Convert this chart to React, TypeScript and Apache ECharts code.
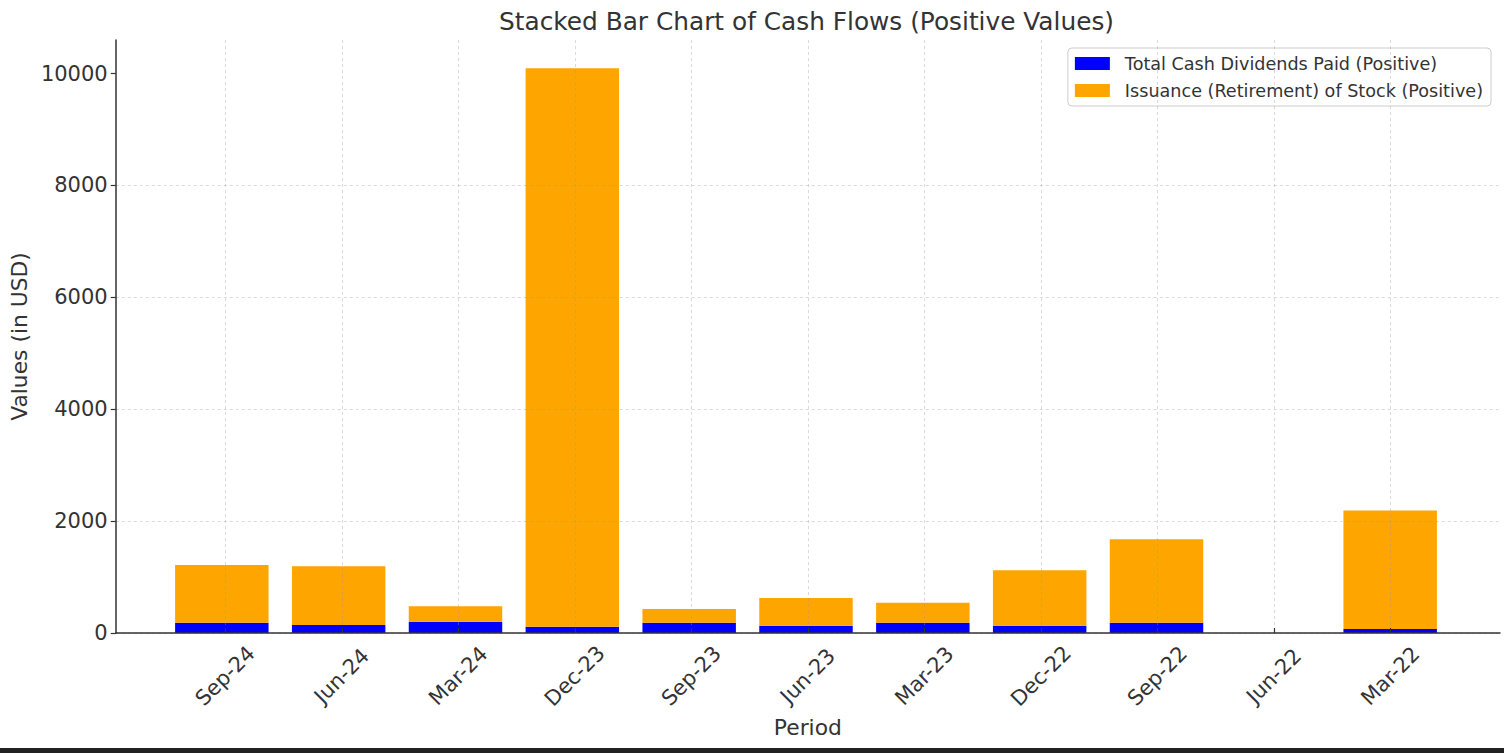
import React, { useEffect, useRef } from "react";
import * as echarts from "echarts";

const categories = ["Sep-24", "Jun-24", "Mar-24", "Dec-23", "Sep-23", "Jun-23", "Mar-23", "Dec-22", "Sep-22", "Jun-22", "Mar-22"];
const dividends = [185, 145, 200, 110, 185, 130, 185, 130, 185, 0, 70];
const stockIssuance = [1030, 1050, 280, 9985, 245, 495, 355, 990, 1490, 0, 2120];
const yTicks = [0, 2000, 4000, 6000, 8000, 10000];

const FONT = "DejaVu Sans";
const TEXT = "#333333";
const Y_MAX = 10600;

export default function App() {
  const ref = useRef<HTMLDivElement>(null);
  useEffect(() => {
    if (!ref.current) return;
    const chart = echarts.init(ref.current, null, { renderer: "svg" });
    const idx = categories.map((_, i) => i);
    const gridLine = { show: true, lineStyle: { color: "rgba(150,150,150,0.45)", type: [3, 3] as any, width: 0.8 } };
    const plotLeft = 112;
    const plotRight = 1500;
    const pad = 0.94;
    const unit = (plotRight - plotLeft) / (categories.length - 1 + 2 * pad);
    const barLeft = plotLeft + (pad - 0.5) * unit;
    const barRight = plotRight - (pad - 0.5) * unit;
    chart.setOption({
      animation: false,
      backgroundColor: "#ffffff",
      textStyle: { fontFamily: FONT },
      title: {
        text: "Stacked Bar Chart of Cash Flows (Positive Values)",
        left: 494,
        top: 4,
        textStyle: { fontFamily: FONT, fontSize: 24.8, fontWeight: "normal", color: TEXT },
      },
      legend: {
        orient: "vertical",
        right: 13,
        top: 48,
        icon: "rect",
        itemWidth: 35,
        itemHeight: 13,
        itemGap: 8,
        padding: [6, 8, 6, 7],
        borderColor: "#cccccc",
        borderWidth: 1,
        borderRadius: 4,
        backgroundColor: "#ffffff",
        textStyle: { fontFamily: FONT, fontSize: 17.6, color: TEXT, lineHeight: 19, padding: [0, 0, 0, 10] },
        data: ["Total Cash Dividends Paid (Positive)", "Issuance (Retirement) of Stock (Positive)"],
      },
      grid: [
        { left: plotLeft, right: 1504 - plotRight, top: 40, bottom: 120, containLabel: false },
        { left: barLeft, right: 1504 - barRight, top: 40, bottom: 120, containLabel: false },
      ],
      xAxis: [
        {
          type: "value",
          gridIndex: 0,
          z: 5,
          min: -pad,
          max: categories.length - 1 + pad,
          name: "Period",
          nameLocation: "middle",
          nameGap: 77,
          nameTextStyle: { fontFamily: FONT, fontSize: 21.8, color: TEXT, verticalAlign: "top" },
          axisLine: { show: true, onZero: false, lineStyle: { color: "#333333", width: 1.5 } },
          axisTick: { show: true, inside: true, length: 5, customValues: idx, lineStyle: { color: "#333333", width: 1.2 } },
          axisLabel: {
            customValues: idx,
            formatter: (v: number) => categories[Math.round(v)] ?? "",
            rotate: 45,
            align: "center",
            verticalAlign: "middle",
            margin: 43,
            fontFamily: FONT,
            fontSize: 21,
            color: TEXT,
          },
          splitLine: gridLine,
        },
        {
          type: "category",
          gridIndex: 1,
          data: categories,
          show: false,
        },
      ],
      yAxis: [
        {
          type: "value",
          gridIndex: 0,
          z: 5,
          min: 0,
          max: Y_MAX,
          name: "Values (in USD)",
          nameLocation: "middle",
          nameGap: 84,
          nameTextStyle: { fontFamily: FONT, fontSize: 21.8, color: TEXT },
          axisLine: { show: true, onZero: false, lineStyle: { color: "#333333", width: 1.5 } },
          axisTick: { show: true, length: 5, customValues: yTicks, lineStyle: { color: "#333333", width: 1.2 } },
          axisLabel: {
            customValues: yTicks,
            formatter: (v: number) => String(v),
            margin: 8,
            fontFamily: FONT,
            fontSize: 21,
            color: TEXT,
          },
          splitLine: { ...gridLine, showMaxLine: false },
        },
        {
          type: "value",
          gridIndex: 1,
          min: 0,
          max: Y_MAX,
          show: false,
          splitLine: { show: false },
        },
      ],
      series: [
        {
          name: "Total Cash Dividends Paid (Positive)",
          type: "bar",
          stack: "total",
          xAxisIndex: 1,
          yAxisIndex: 1,
          barWidth: "80%",
          itemStyle: { color: "#0000ff" },
          data: dividends,
        },
        {
          name: "Issuance (Retirement) of Stock (Positive)",
          type: "bar",
          stack: "total",
          xAxisIndex: 1,
          yAxisIndex: 1,
          barWidth: "80%",
          itemStyle: { color: "#ffa500" },
          data: stockIssuance,
        },
      ],
      graphic: [
        {
          type: "rect",
          left: 0,
          bottom: 0,
          shape: { width: 1504, height: 5 },
          style: { fill: "#222222" },
        },
      ],
    });
    return () => chart.dispose();
  }, []);
  return <div ref={ref} style={{ position: "absolute", left: 0, top: 0, width: 1504, height: 753 }} />;
}
